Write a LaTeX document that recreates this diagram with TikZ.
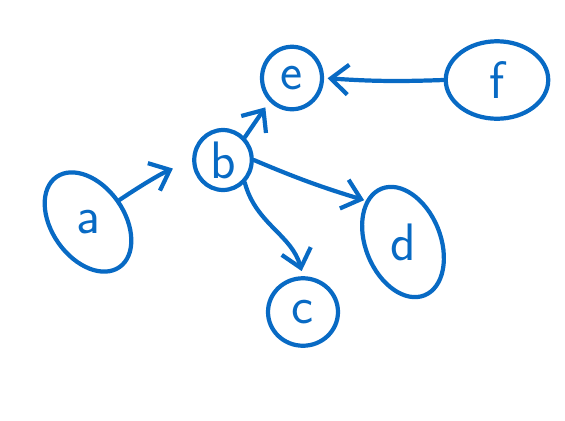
\documentclass[tikz,border=0pt]{standalone}
\usetikzlibrary{shapes.geometric,arrows.meta}
\definecolor{inkblue}{RGB}{8,106,196}
\tikzset{
  ring/.style={draw=inkblue, line width=2.4pt, ellipse, inner sep=0pt},
  letter/.style={text=inkblue, font=\sffamily\fontsize{30}{32}\selectfont},
  link/.style={draw=inkblue, line width=2.4pt, line cap=round,
    -{Straight Barb[length=3.5mm,width=6mm,line width=2.4pt]}}
}
\begin{document}
\begin{tikzpicture}[x=0.02cm,y=-0.02cm]
\useasboundingbox (0,0) rectangle (565,420);
% outlines
\node[ring, minimum width=2.2cm, minimum height=1.45cm, rotate=-55] (a) at (88,222) {};
\node[ring, minimum width=1.15cm, minimum height=1.2cm] (b) at (223,160) {};
\node[ring, minimum width=1.2cm, minimum height=1.25cm] (e) at (292,78) {};
\node[ring, minimum width=2.05cm, minimum height=1.55cm] (f) at (497,80) {};
\node[ring, minimum width=2.3cm, minimum height=1.5cm, rotate=-68] (d) at (403,242) {};
\node[ring, minimum width=1.4cm, minimum height=1.35cm] (c) at (303,312) {};
% letters
\node[letter] at (a) {a};
\node[letter] at (b) {b};
\node[letter] at (e) {e};
\node[letter] at (f) {f};
\node[letter] at (d) {d};
\node[letter] at (c) {c};
% connectors
\draw[link, shorten >=12pt] (a.north) to[bend left=5] (b.west);
\draw[link, shorten >=4pt] (b.north east) -- (e.south west);
\draw[link, shorten >=2pt] (f.west) to[bend left=3] (e.east);
\draw[link, shorten >=3pt] (b.south east) to[out=-75,in=105] (c.north);
\draw[link, shorten >=1pt] (b.east) to[bend right=3] (d.200);
\end{tikzpicture}
\end{document}
